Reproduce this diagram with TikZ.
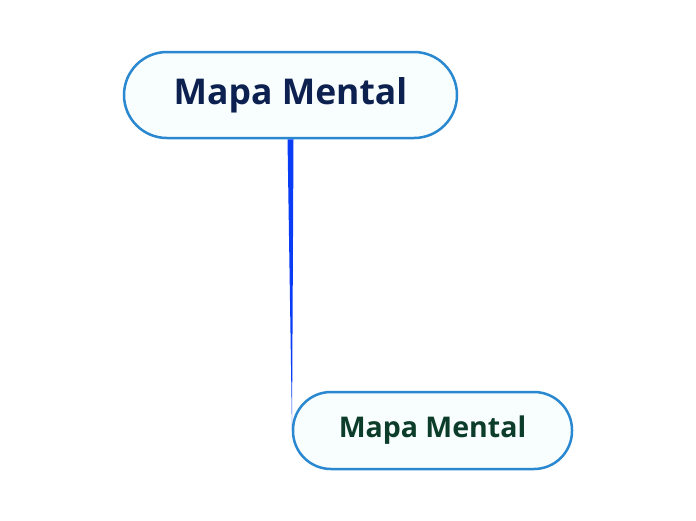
\documentclass[tikz,border=0pt]{standalone}
\usepackage{fontspec}
\setmainfont{Open Sans}
\definecolor{bord}{HTML}{2A88D0}
\definecolor{fillc}{HTML}{F8FDFD}
\definecolor{navy}{HTML}{0D2150}
\definecolor{dgreen}{HTML}{0B3D2A}
\definecolor{link}{HTML}{0A3CF5}
\begin{document}
\begin{tikzpicture}[x=1pt,y=-1pt,
  topic/.style={draw=bord,line width=2.5pt,fill=fillc,rounded corners=#1,inner sep=0pt}]
\useasboundingbox (0,0) rectangle (696,520);
\node[topic=43pt,minimum width=333pt,minimum height=86pt,text=navy,font=\bfseries\fontsize{35.5}{40}\selectfont] (root) at (290.5,95) {Mapa Mental};
\coordinate (c) at (292,430);
\fill[link] (root.south) ++(-3,0) -- ++(6,0) -- (c) ++(1.2,0) -- ++(-2.4,0) -- cycle;
\node[topic=38pt,minimum width=279pt,minimum height=77pt,text=dgreen,font=\bfseries\fontsize{28.5}{32}\selectfont] (sub) at (432.5,430.5) {Mapa Mental};
\end{tikzpicture}
\end{document}
